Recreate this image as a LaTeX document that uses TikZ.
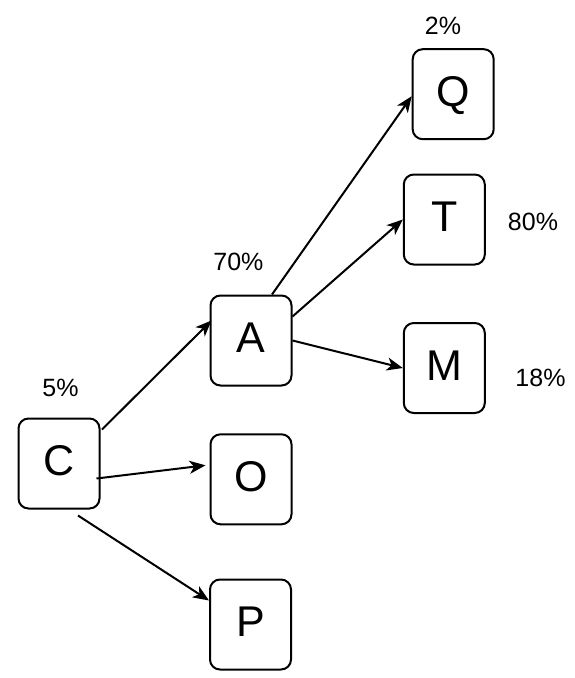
\documentclass[tikz,border=0pt]{standalone}
\usepackage{fontspec}
\setmainfont{Liberation Sans}
\usetikzlibrary{arrows.meta}

\begin{document}
\begin{tikzpicture}[x=1pt,y=-1pt,line width=2pt,
	box/.style={draw,rounded corners=10pt,minimum width=81pt,minimum height=90pt,
		inner sep=0pt,font=\fontsize{43}{50}\selectfont,text height=30pt,text depth=6pt},
	pct/.style={inner sep=0pt,font=\fontsize{25}{30}\selectfont},
	link/.style={-{Stealth[length=16pt,width=13pt,inset=4.5pt]}}]
		\useasboundingbox (0,0) rectangle (575,678);

		\node[box] (C) at (59,463.5) {C};
		\node[box] (A) at (251,340.5) {A};
		\node[box] (O) at (251,479.3) {O};
		\node[box] (P) at (250.5,624.5) {P};
		\node[box] (Q) at (453.2,94.2) {Q};
		\node[box] (T) at (444.3,219.5) {T};
		\node[box] (M) at (444.3,368) {M};

		\node[pct] (pC) at (60.5,388) {5\%};
		\node[pct] (pA) at (238.4,262) {70\%};
		\node[pct] (pQ) at (443,26.3) {2\%};
		\node[pct] (pT) at (533,221.7) {80\%};
		\node[pct] (pM) at (540.5,377.5) {18\%};

		\draw[link] ([shift={(1.5pt,34pt)}]C.east) -- ([shift={(2pt,20pt)}]A.west);
		\draw[link] ([shift={(-4pt,-15pt)}]C.east) -- ([shift={(-4pt,14pt)}]O.west);
		\draw[link] ([shift={(19pt,-6pt)}]C.south) -- ([yshift=24pt]P.west);
		\draw[link] ([xshift=21pt]A.north) -- ([yshift=-2pt]Q.west);
		\draw[link] ([yshift=24pt]A.east) -- (T.west);
		\draw[link] (A.east) -- (M.west);
	\end{tikzpicture}
\end{document}
